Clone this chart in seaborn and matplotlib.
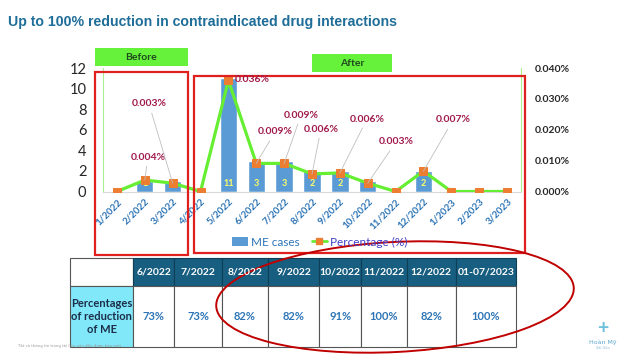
import matplotlib
matplotlib.use("Agg")
import matplotlib.pyplot as plt
import seaborn as sns
import pandas as pd
from matplotlib.patches import Rectangle, Ellipse, Patch
from matplotlib.lines import Line2D

# data
months = ["1/2022", "2/2022", "3/2022", "4/2022", "5/2022", "6/2022", "7/2022", "8/2022",
          "9/2022", "10/2022", "11/2022", "12/2022", "1/2023", "2/2023", "3/2023"]
me_cases = [0, 1, 1, 0, 11, 3, 3, 2, 2, 1, 0, 2, 0, 0, 0]
pct = [0, 0.0037, 0.0027, 0, 0.036, 0.0091, 0.0091, 0.0057, 0.006, 0.0027, 0, 0.0066, 0, 0, 0]
pct_labels = ["", "0.004%", "0.003%", "", "0.036%", "0.009%", "0.009%", "0.006%",
              "0.006%", "0.003%", "", "0.007%", "", "", ""]

table_months = ["6/2022", "7/2022", "8/2022", "9/2022", "10/2022", "11/2022", "12/2022", "01-07/2023"]
reduction = ["73%", "73%", "82%", "82%", "91%", "100%", "82%", "100%"]

sns.set_theme(style="white")
plt.rcParams["font.family"] = ["Lato", "DejaVu Sans"]

W, H = 638, 359
fig = plt.figure(figsize=(W / 100, H / 100), dpi=100)
fig.patch.set_facecolor("white")

# chart area in pixels
x0, x1, ytop, ybot = 103, 521, 68, 191.5
ax = fig.add_axes([x0 / W, 1 - ybot / H, (x1 - x0) / W, (ybot - ytop) / H])
ax.patch.set_alpha(0)

df = pd.DataFrame({"month": months, "cases": me_cases, "pct": pct})
sns.barplot(data=df, x="month", y="cases", color="#5b9bd5", saturation=1, width=0.62, ax=ax)
ax.set_ylim(0, 12)
ax.set_yticks(range(0, 13, 2))
ax.set_xlabel("")
ax.set_ylabel("")
ax.tick_params(axis="y", labelsize=10.5, pad=12, length=0)
ax.tick_params(axis="x", length=0, pad=4)
ax.set_xticks(range(len(months)))
ax.set_xticklabels(months, rotation=45, ha="right", va="top", rotation_mode="anchor",
                   fontsize=7, fontweight="bold", color="#2e75b6")
ax.spines["top"].set_visible(False)
ax.spines["left"].set_color("#a8f08c")
ax.spines["left"].set_linewidth(0.8)
ax.spines["right"].set_color("#a8f08c")
ax.spines["right"].set_linewidth(0.8)
ax.spines["bottom"].set_color("#d9d9d9")
ax.spines["bottom"].set_linewidth(0.8)

for i, v in enumerate(me_cases):
    if v:
        ax.text(i, 0.8, str(v), ha="center", va="center", fontsize=6.5,
                fontweight="bold", color="#ffff66")

ax2 = ax.twinx()
sns.lineplot(x=list(range(len(months))), y=pct, ax=ax2, color="#66ee33", linewidth=2.3,
             marker="s", markersize=5.5, markerfacecolor="#ed7d31", markeredgecolor="#ed7d31")
ax2.set_ylim(0, 0.04)
ax2.set_xlim(-0.5, len(months) - 0.5)
ax.set_xlim(-0.5, len(months) - 0.5)
ax2.set_yticks([0, 0.01, 0.02, 0.03, 0.04])
ax2.set_yticklabels(["0.000%", "0.010%", "0.020%", "0.030%", "0.040%"],
                    fontsize=7.5, fontweight="bold")
ax2.tick_params(axis="y", length=0, pad=10)
ax2.set_ylabel("")
for s in ax2.spines.values():
    s.set_visible(False)

# overlay in pixel coordinates
ov = fig.add_axes([0, 0, 1, 1])
ov.set_xlim(0, W)
ov.set_ylim(H, 0)
ov.axis("off")

# data labels with leader lines (label positions in pixels)
label_pos = {1: (148, 157), 2: (149, 104), 4: (252, 80), 5: (275, 132), 6: (301, 115),
             7: (321, 129), 8: (367, 119), 9: (396, 142), 11: (453, 120)}
for i, (px, py) in label_pos.items():
    if i == 4:
        ov.text(px, py, pct_labels[i], ha="center", va="center", fontsize=7.5,
                fontweight="bold", color="#a0194b")
        continue
    ax2.annotate(pct_labels[i], xy=(i, pct[i]), xytext=(px, py), textcoords=ov.transData,
                 ha="center", va="center", fontsize=7.5, fontweight="bold", color="#a0194b",
                 arrowprops=dict(arrowstyle="-", color="#bfbfbf", lw=0.6,
                                 shrinkA=1, shrinkB=0))

# legend
handles = [Patch(facecolor="#5b9bd5", edgecolor="none"),
           Line2D([0], [0], color="#66ee33", lw=2, marker="s", markersize=5,
                  markerfacecolor="#ed7d31", markeredgecolor="#ed7d31")]
leg = fig.legend(handles, ["ME cases", "Percentage (%)"], loc="center",
                 bbox_to_anchor=(320 / W, 1 - 242 / H), ncol=2, frameon=False,
                 fontsize=8.5, handlelength=1.3, handletextpad=0.3, columnspacing=1.0)
leg.get_texts()[0].set_color("#2e75b6")
leg.get_texts()[1].set_color("#4040c8")

# title
ov.text(8, 22, "Up to 100% reduction in contraindicated drug interactions", ha="left",
        va="center", fontsize=10.2, fontweight="bold", color="#1f6e99",
        family=["Liberation Sans", "DejaVu Sans"])

# Before / After tags and red frames
ov.add_patch(Rectangle((95, 48), 93, 18, facecolor="#66f23a", edgecolor="none"))
ov.text(141.5, 57, "Before", ha="center", va="center", fontsize=7.5, fontweight="bold",
        color="#1e4a1e")
ov.add_patch(Rectangle((312, 54), 80, 18, facecolor="#66f23a", edgecolor="none"))
ov.text(352, 63, "After", ha="center", va="center", fontsize=7.5, fontweight="bold",
        color="#1e4a1e")
ov.add_patch(Rectangle((95, 72), 93, 183, facecolor="none", edgecolor="#e0201e", lw=1.6))
ov.add_patch(Rectangle((194, 76), 331, 177, facecolor="none", edgecolor="#e0201e", lw=1.6))

# table
col_edges = [70, 133.3, 174.3, 221.7, 268.3, 319.3, 361, 406.7, 455.7, 516]
r0, r1, r2 = 258, 286, 347
ov.add_patch(Rectangle((col_edges[0], r0), col_edges[1] - col_edges[0], r1 - r0,
                       facecolor="white", edgecolor="#555555", lw=0.8))
ov.add_patch(Rectangle((col_edges[0], r1), col_edges[1] - col_edges[0], r2 - r1,
                       facecolor="#80e8f8", edgecolor="#555555", lw=0.8))
ov.text((col_edges[0] + col_edges[1]) / 2, (r1 + r2) / 2, "Percentages\nof reduction\nof ME",
        ha="center", va="center", fontsize=8, fontweight="bold", color="#1c2e4a",
        linespacing=1.2)
for j, (m, r) in enumerate(zip(table_months, reduction)):
    a, b = col_edges[j + 1], col_edges[j + 2]
    ov.add_patch(Rectangle((a, r0), b - a, r1 - r0, facecolor="#175e80",
                           edgecolor="#0f3f57", lw=0.8))
    ov.add_patch(Rectangle((a, r1), b - a, r2 - r1, facecolor="white",
                           edgecolor="#555555", lw=0.8))
    ov.text((a + b) / 2, (r0 + r1) / 2, m, ha="center", va="center", fontsize=7.5,
            fontweight="bold", color="white")
    ov.text((a + b) / 2, (r1 + r2) / 2, r, ha="center", va="center", fontsize=8,
            fontweight="bold", color="#2e75b6")

# big ellipse over the table
ov.add_patch(Ellipse((395, 297), 358, 110, angle=-3, facecolor="none",
                     edgecolor="#c00000", lw=1.4))

# footer and logo
ov.text(18, 346, "Tất cả thông tin trong tài liệu này đều được bảo mật", ha="left",
        va="center", fontsize=2.8, color="#9a9a9a", family="DejaVu Sans")
ov.text(603, 328, "+", ha="center", va="center", fontsize=14, fontweight="bold",
        color="#6cc0dc")
ov.text(603, 342, "Hoàn Mỹ", ha="center", va="center", fontsize=4.5, color="#5aa8d0",
        family="DejaVu Sans")
ov.text(603, 348, "Sài Gòn", ha="center", va="center", fontsize=2.5, color="#8abcd8",
        family="DejaVu Sans")

fig.savefig("out.png", dpi=100)
